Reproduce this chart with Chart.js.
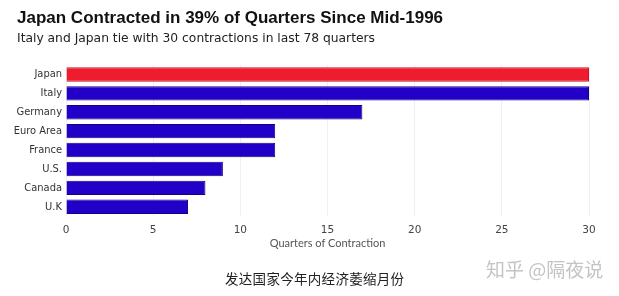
<!DOCTYPE html>
<html>
<head>
<meta charset="utf-8">
<script src="https://cdn.jsdelivr.net/npm/chart.js@4"></script>
<style>
  html, body { margin: 0; padding: 0; background: #fff; }
  #wrap { position: relative; width: 619px; height: 296px; }
  #wrap div { position: absolute; white-space: nowrap; }
  #title { left: 17px; top: 8px; font: bold 17px/20px "Liberation Sans"; color: #111; }
  #subtitle { left: 17px; top: 30px; font: 12.3px/16px "DejaVu Sans"; color: #222; }
  #caption { left: 225px; top: 268px; font: 13.5px "Noto Sans CJK SC"; color: #222; letter-spacing: 0.3px; }
  #mark { left: 486px; top: 255px; font: 19px "Noto Sans CJK SC"; color: #c4c4c4; }
</style>
</head>
<body>
<div id="wrap">
  <canvas id="c" width="619" height="296"></canvas>
  <div id="title">Japan Contracted in 39% of Quarters Since Mid-1996</div>
  <div id="subtitle">Italy and Japan tie with 30 contractions in last 78 quarters</div>
  <div id="caption">发达国家今年内经济萎缩月份</div>
  <div id="mark">知乎 @隔夜说</div>
</div>
<script>
// --- DATA --- //
const countries = ["Japan", "Italy", "Germany", "Euro Area", "France", "U.S.", "Canada", "U.K"];
const contractions = [30, 30, 17, 12, 12, 9, 8, 7];
const xTicks = [0, 5, 10, 15, 20, 25, 30];

const RED = "rgb(238, 28, 46)";
const BLUE = "rgb(34, 0, 200)";

new Chart(document.getElementById("c"), {
  type: "bar",
  data: {
    labels: countries,
    datasets: [
      {
        data: contractions,
        backgroundColor: countries.map((c) => (c === "Japan" ? RED : BLUE)),
        borderColor: countries.map((c) => (c === "Japan" ? "rgb(200, 20, 40)" : "rgb(20, 0, 130)")),
        borderWidth: 1,
        barPercentage: 0.76,
        categoryPercentage: 1,
      },
    ],
  },
  options: {
    indexAxis: "y",
    responsive: false,
    animation: false,
    layout: { padding: { left: 0, right: 30, top: 65, bottom: 42 } },
    plugins: {
      legend: { display: false },
      tooltip: { enabled: false },
    },
    scales: {
      x: {
        min: 0,
        max: 30,
        afterBuildTicks: (s) => { s.ticks = xTicks.map((v) => ({ value: v })); },
        grid: { color: "#f0f0f0", drawTicks: false },
        border: { display: false },
        ticks: { color: "#444", font: { family: "DejaVu Sans", size: 10.5 }, padding: 8 },
        title: {
          display: true,
          text: "Quarters of Contraction",
          color: "#555",
          font: { family: "Lato", size: 11 },
          padding: { top: -8, bottom: 4 },
        },
      },
      y: {
        afterFit: (s) => { s.width = 66; },
        grid: { display: false, drawTicks: false },
        border: { display: false },
        ticks: { color: "#333", font: { family: "DejaVu Sans Condensed", size: 11 }, padding: 4 },
      },
    },
  },
});
</script>
</body>
</html>
